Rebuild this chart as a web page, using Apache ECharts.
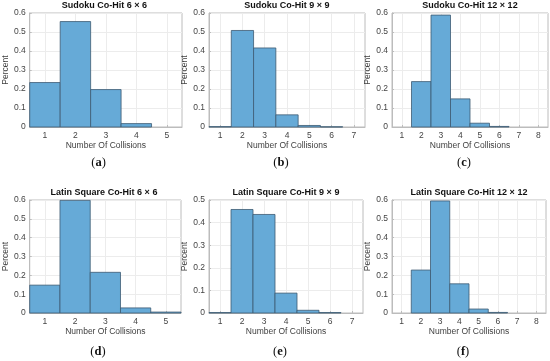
<!DOCTYPE html>
<html>
<head>
<meta charset="utf-8">
<script src="https://cdn.jsdelivr.net/npm/echarts@6/dist/echarts.min.js"></script>
<style>html,body{margin:0;padding:0;background:#fff}#c{width:550px;height:361px}</style>
</head>
<body>
<div id="c"></div>
<script>
// ---- data ----
const titles = ['Sudoku Co-Hit 6 \u00d7 6','Sudoku Co-Hit 9 \u00d7 9','Sudoku Co-Hit 12 \u00d7 12',
  'Latin Square Co-Hit 6 \u00d7 6','Latin Square Co-Hit 9 \u00d7 9','Latin Square Co-Hit 12 \u00d7 12'];
const subLabels = ['a','b','c','d','e','f'];
const collisionsA = [1,2,3,4,5];
const percentA = [0.234, 0.555, 0.197, 0.018, 0];
const collisionsB = [1,2,3,4,5,6,7];
const percentB = [0.002, 0.508, 0.416, 0.064, 0.008, 0.001, 0];
const collisionsC = [1,2,3,4,5,6,7,8];
const percentC = [0, 0.239, 0.589, 0.148, 0.020, 0.003, 0, 0];
const collisionsD = [1,2,3,4,5];
const percentD = [0.148, 0.598, 0.216, 0.027, 0.005];
const collisionsE = [1,2,3,4,5,6,7];
const percentE = [0.002, 0.458, 0.436, 0.088, 0.012, 0.002, 0];
const collisionsF = [1,2,3,4,5,6,7,8];
const percentF = [0, 0.228, 0.595, 0.155, 0.021, 0.003, 0, 0];
const yMaxes = [0.6, 0.6, 0.6, 0.6, 0.5, 0.6];

const panels = [
  [collisionsA, percentA],[collisionsB, percentB],[collisionsC, percentC],
  [collisionsD, percentD],[collisionsE, percentE],[collisionsF, percentF]
];

// ---- layout ----
const lefts = [27, 209, 392];
const widths = [[155,156,156],[154,154,154]];
const tops = [13, 200];
const heights = [114, 113];
const FONT = 'Liberation Sans, Arial, sans-serif';

const grid = [], xAxis = [], yAxis = [], series = [], title = [], graphic = [];
panels.forEach((p, i) => {
  const r = Math.floor(i/3), c = i%3;
  const cats = p[0], vals = p[1];
  grid.push({left: lefts[c], top: tops[r], width: widths[r][c], height: heights[r],
    show: true, borderColor: '#bcbcbc', borderWidth: 1, backgroundColor: '#fff'});
  xAxis.push({type: 'value', gridIndex: i, min: cats[0]-0.5, max: cats[cats.length-1]+0.5,
    name: 'Number Of Collisions', nameLocation: 'middle', nameGap: 14,
    nameTextStyle: {fontFamily: FONT, fontSize: 8.5, color: '#404040'},
    axisLine: {show: true, lineStyle: {color: '#bcbcbc'}},
    axisTick: {show: true, inside: true, length: 2, lineStyle: {color: '#bcbcbc'}, customValues: cats},
    axisLabel: {fontFamily: FONT, fontSize: 8.5, color: '#444', margin: 4, customValues: cats},
    splitLine: {show: true, lineStyle: {color: '#ececec', width: 1}}
  });
  yAxis.push({type: 'value', gridIndex: i, min: 0, max: yMaxes[i], interval: 0.1,
    name: 'Percent', nameLocation: 'middle', nameGap: 17,
    nameTextStyle: {fontFamily: FONT, fontSize: 8.5, color: '#404040'},
    axisLine: {show: true, lineStyle: {color: '#bcbcbc'}},
    axisTick: {show: true, inside: true, length: 2, lineStyle: {color: '#bcbcbc'}},
    axisLabel: {fontFamily: FONT, fontSize: 8.5, color: '#444', margin: 4},
    splitLine: {show: true, lineStyle: {color: '#ececec', width: 1}}
  });
  series.push({type: 'custom', xAxisIndex: i, yAxisIndex: i,
    data: cats.map((x, k) => [x, vals[k]]),
    renderItem: function(params, api) {
      const x = api.value(0), y = api.value(1);
      if (!(y > 0)) return null;
      const p0 = api.coord([x-0.5, y]);
      const p1 = api.coord([x+0.5, 0]);
      return {type: 'rect',
        shape: {x: p0[0], y: p0[1], width: p1[0]-p0[0], height: p1[1]-p0[1]},
        style: {fill: '#66aad7', stroke: '#3d5a72', lineWidth: 0.8}};
    }
  });
  title.push({text: titles[i], left: lefts[c] + widths[r][c]/2, top: tops[r] - 12, padding: 0, textAlign: 'center',
    textStyle: {fontFamily: FONT, fontSize: 9, fontWeight: 'bold', color: '#111'}});
  graphic.push({type: 'text', x: lefts[c] + widths[r][c]/2 - 6, y: r === 0 ? 163 : 352,
    style: {text: '(' + '{b|' + subLabels[i] + '})', rich: {b: {fontWeight: 'bold', fontFamily: 'Liberation Serif, serif', fontSize: 12.5, fill: '#111'}},
      fontFamily: 'Liberation Serif, serif', fontSize: 12.5, fill: '#111', align: 'center', verticalAlign: 'middle'}});
});

const chart = echarts.init(document.getElementById('c'), null, {renderer: 'canvas'});
chart.setOption({animation: false, backgroundColor: '#fff', title, grid, xAxis, yAxis, series, graphic});
</script>
</body>
</html>
